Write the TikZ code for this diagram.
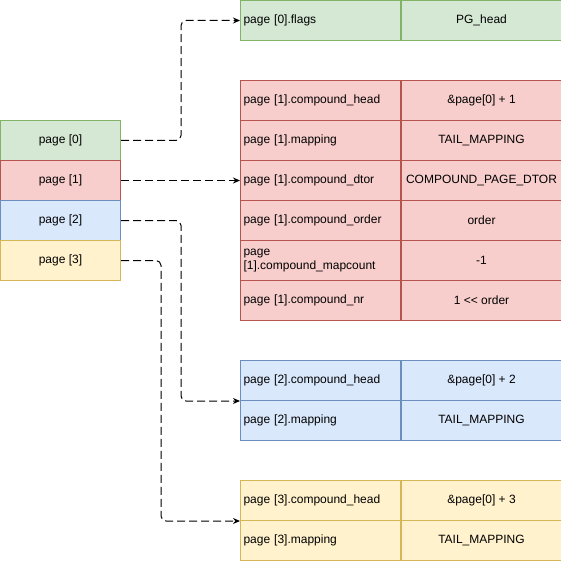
\documentclass[tikz,border=0pt]{standalone}
\usepackage{fontspec}
\setmainfont{Liberation Sans}
\usetikzlibrary{positioning,arrows.meta}

\definecolor{gfill}{HTML}{D5E8D4}
\definecolor{gline}{HTML}{82B366}
\definecolor{rfill}{HTML}{F8CECC}
\definecolor{rline}{HTML}{B85450}
\definecolor{bfill}{HTML}{DAE8FC}
\definecolor{bline}{HTML}{6C8EBF}
\definecolor{yfill}{HTML}{FFF2CC}
\definecolor{yline}{HTML}{D6B656}

\tikzset{
	cell/.style={draw,line width=1pt,minimum width=160pt,minimum height=40pt,inner sep=0pt,font=\fontsize{12}{14}\selectfont},
	key/.style={cell,anchor=north west,text width=154pt,inner xsep=3pt,align=left},
	val/.style={cell,right=0pt of #1,align=center},
	src/.style={cell,minimum width=120pt,anchor=north west},
	grn/.style={fill=gfill,draw=gline},
	red/.style={fill=rfill,draw=rline},
	blu/.style={fill=bfill,draw=bline},
	ylw/.style={fill=yfill,draw=yline},
	link/.style={draw=black,line width=1pt,dash pattern=on 8pt off 4pt,rounded corners=5pt,-{Stealth[length=7pt,width=6pt]}}
}

\begin{document}
\begin{tikzpicture}[x=1pt,y=-1pt]
	\useasboundingbox (0,0) rectangle (561,561);

	% left column
	\node [src,grn] (P0) at (0,120) {page [0]};
	\node [src,red] (P1) at (0,160) {page [1]};
	\node [src,blu] (P2) at (0,200) {page [2]};
	\node [src,ylw] (P3) at (0,240) {page [3]};

	% page [0]
	\node [key,grn] (G) at (240,0) {page [0].flags};
	\node [val=G,grn] (Gv) {PG\_head};

	% page [1]
	\node [key,red] (R1) at (240,80) {page [1].compound\_head};
	\node [val=R1,red] (R1v) {\&page[0] + 1};
	\node [key,red] (R2) at (240,120) {page [1].mapping};
	\node [val=R2,red] (R2v) {TAIL\_MAPPING};
	\node [key,red] (R3) at (240,160) {page [1].compound\_dtor};
	\node [val=R3,red] (R3v) {COMPOUND\_PAGE\_DTOR};
	\node [key,red] (R4) at (240,200) {page [1].compound\_order};
	\node [val=R4,red] (R4v) {order};
	\node [key,red] (R5) at (240,240) {page\\{}[1].compound\_mapcount};
	\node [val=R5,red] (R5v) {-1};
	\node [key,red] (R6) at (240,280) {page [1].compound\_nr};
	\node [val=R6,red] (R6v) {1 <\kern0pt< order};

	% page [2]
	\node [key,blu] (B1) at (240,360) {page [2].compound\_head};
	\node [val=B1,blu] (B1v) {\&page[0] + 2};
	\node [key,blu] (B2) at (240,400) {page [2].mapping};
	\node [val=B2,blu] (B2v) {TAIL\_MAPPING};

	% page [3]
	\node [key,ylw] (Y1) at (240,480) {page [3].compound\_head};
	\node [val=Y1,ylw] (Y1v) {\&page[0] + 3};
	\node [key,ylw] (Y2) at (240,520) {page [3].mapping};
	\node [val=Y2,ylw] (Y2v) {TAIL\_MAPPING};

	\draw [link] (P0.east) -- ++(60,0) |- (G.west);
	\draw [link] (P1.east) -- (R3.west);
	\draw [link] (P2.east) -- ++(60,0) |- (B1.south west);
	\draw [link] (P3.east) -- ++(40,0) |- (Y1.south west);
\end{tikzpicture}
\end{document}
